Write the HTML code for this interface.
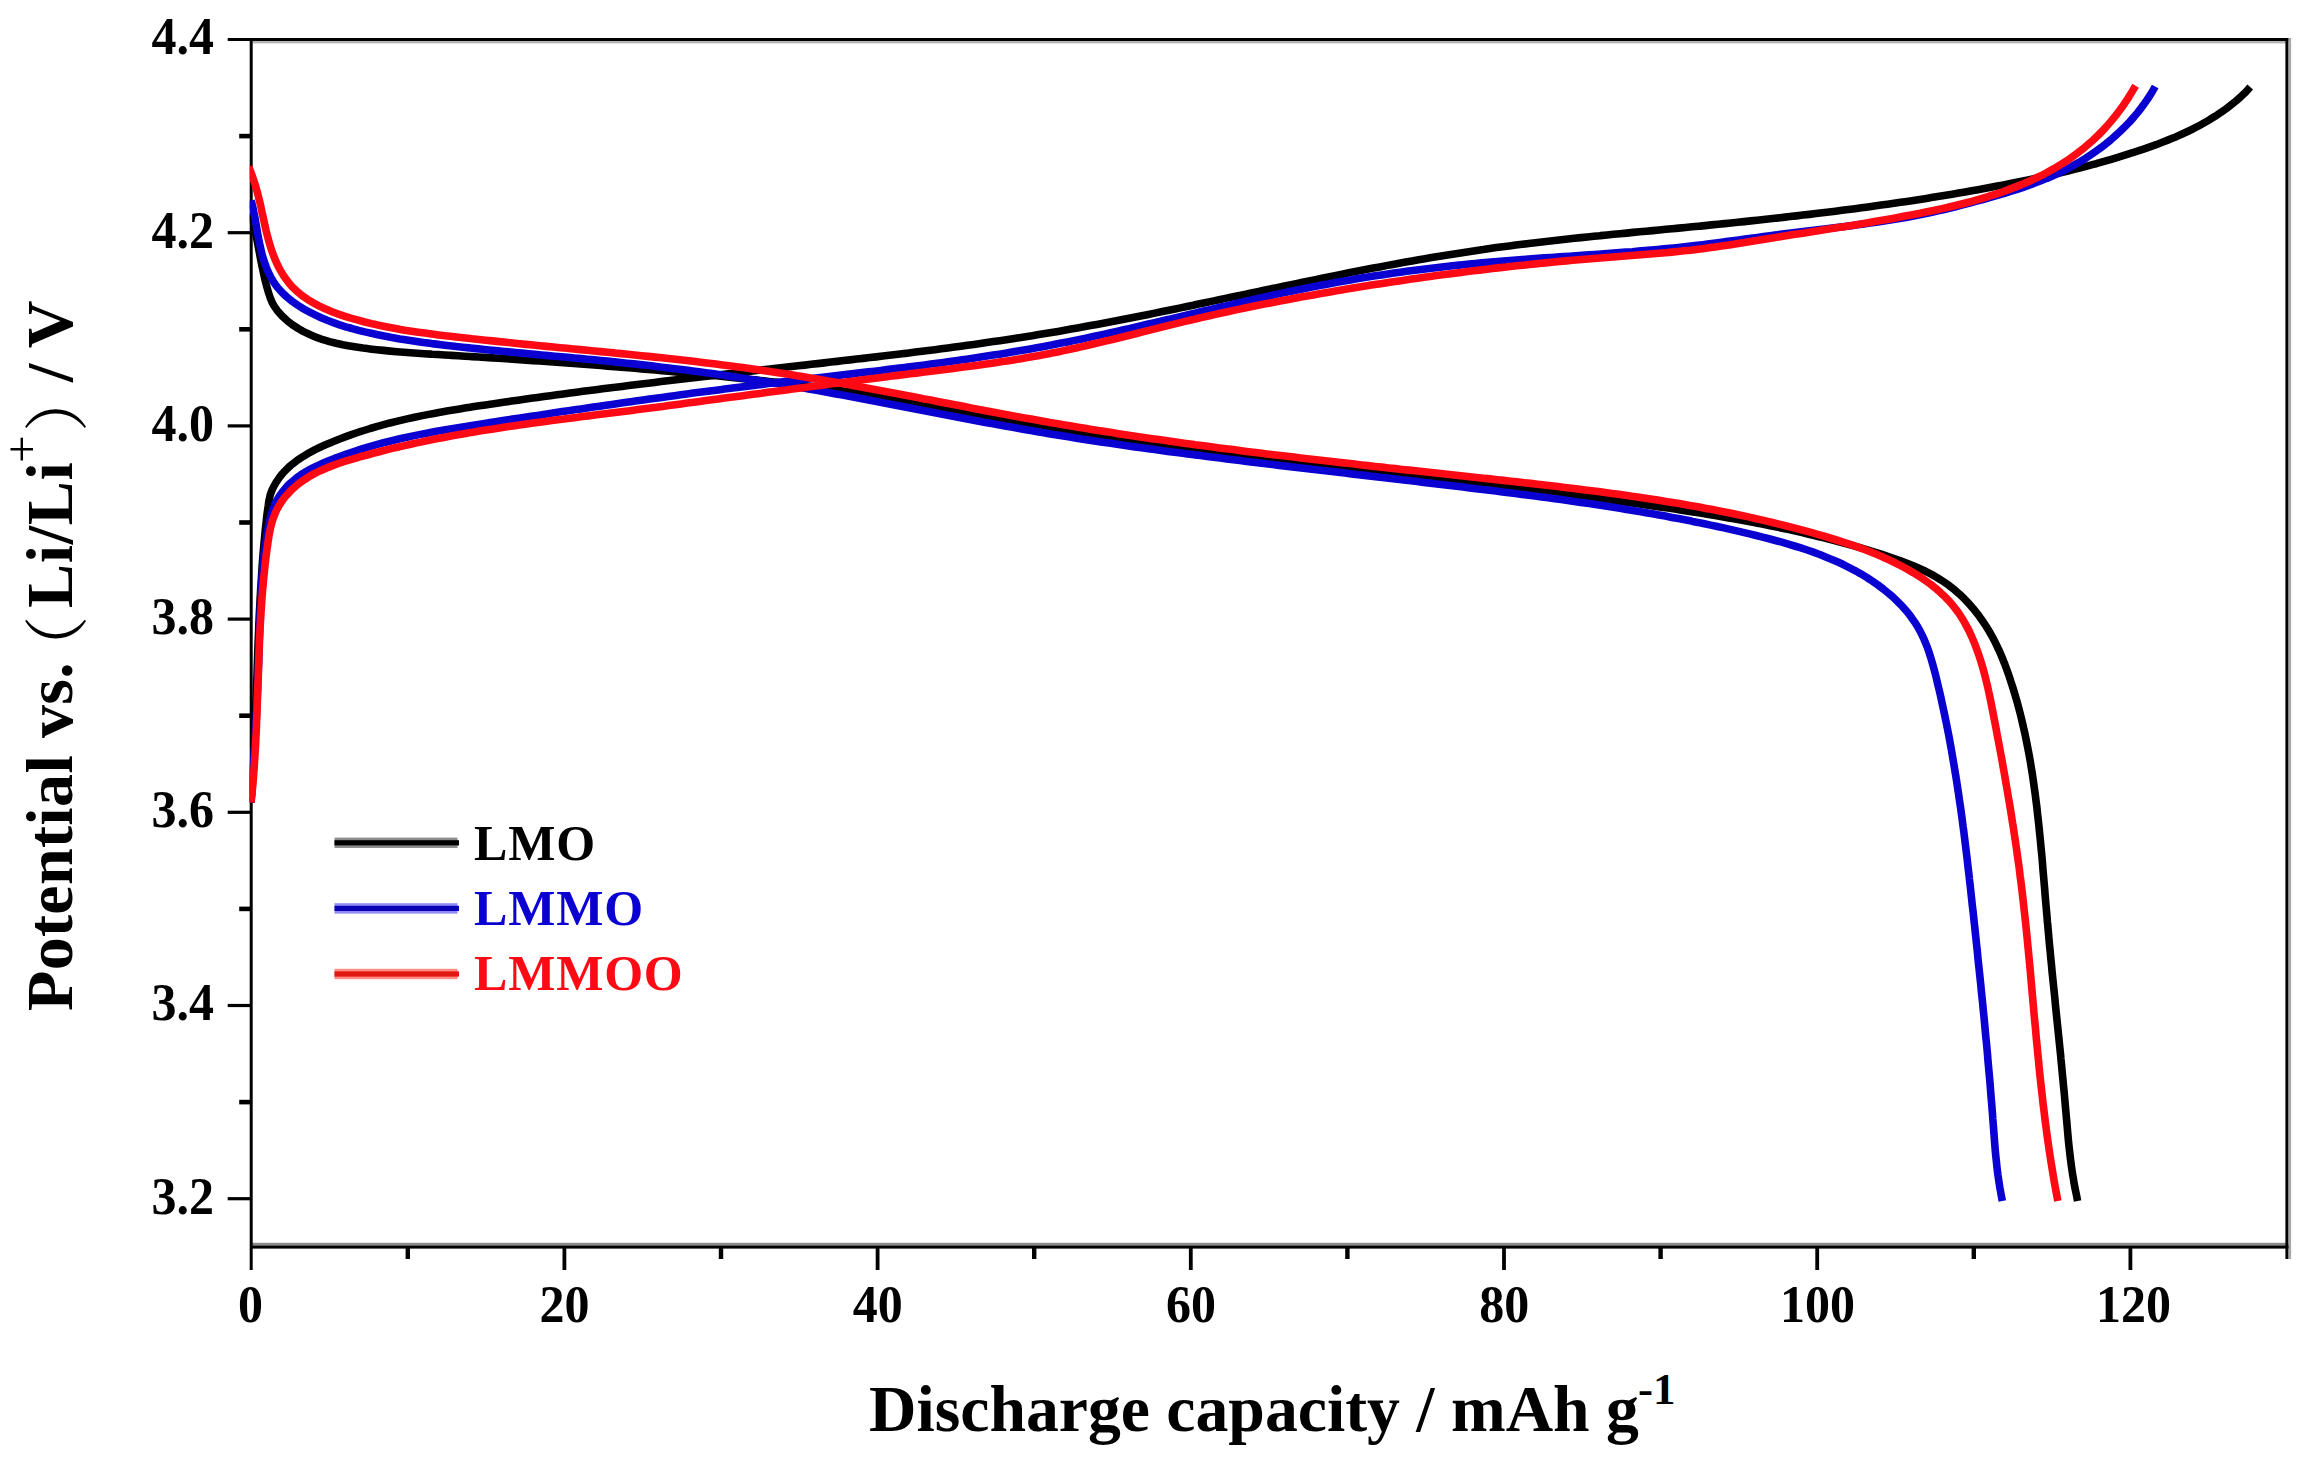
<!DOCTYPE html>
<html lang="en">
<head>
<meta charset="utf-8">
<title>Charge-discharge curves</title>
<style>
html,body{margin:0;padding:0;background:#fff;}
body{width:2300px;height:1460px;overflow:hidden;position:relative;}
svg{position:absolute;left:0;top:0;display:block;}
text{font-family:"Liberation Serif","Noto Serif CJK SC",serif;font-weight:bold;}
.tick{font-size:50px;}
.leg{font-size:50px;letter-spacing:0.8px;}
.title{font-size:66px;}
.cv{fill:none;stroke-linejoin:round;stroke-linecap:butt;}
</style>
</head>
<body>
<svg width="2300" height="1460" viewBox="0 0 2300 1460">
<rect x="0" y="0" width="2300" height="1460" fill="#ffffff"/>
<g id="axes"><rect x="251.2" y="1242.8" width="2037.3" height="2.8" fill="#8a8a8a"/><rect x="2288.3" y="38.0" width="2.8" height="1221.0" fill="#a8a8a8"/><rect x="252.7" y="41.0" width="2032.8" height="2.4" fill="#b4b4b4"/><rect x="227.7" y="38.0" width="2060.5" height="3" fill="#000"/><rect x="249.7" y="38.0" width="3" height="1232.0" fill="#000"/><rect x="251.2" y="1245.5" width="2037.3" height="3.1" fill="#000"/><rect x="2285.4" y="38.0" width="2.9" height="1221.0" fill="#000"/><rect x="239.2" y="133.8" width="12" height="4.6" fill="#000"/><rect x="227.7" y="231.1" width="23.5" height="3.2" fill="#000"/><rect x="239.2" y="327.0" width="12" height="4.6" fill="#000"/><rect x="227.7" y="424.3" width="23.5" height="3.2" fill="#000"/><rect x="239.2" y="520.2" width="12" height="4.6" fill="#000"/><rect x="227.7" y="617.5" width="23.5" height="3.2" fill="#000"/><rect x="239.2" y="713.4" width="12" height="4.6" fill="#000"/><rect x="227.7" y="810.7" width="23.5" height="3.2" fill="#000"/><rect x="239.2" y="906.6" width="12" height="4.6" fill="#000"/><rect x="227.7" y="1003.9" width="23.5" height="3.2" fill="#000"/><rect x="239.2" y="1099.8" width="12" height="4.6" fill="#000"/><rect x="227.7" y="1197.1" width="23.5" height="3.2" fill="#000"/><rect x="405.6" y="1247.0" width="4.4" height="12" fill="#000"/><rect x="562.5" y="1247.0" width="3.8" height="23" fill="#000"/><rect x="718.8" y="1247.0" width="4.4" height="12" fill="#000"/><rect x="875.7" y="1247.0" width="3.8" height="23" fill="#000"/><rect x="1032.0" y="1247.0" width="4.4" height="12" fill="#000"/><rect x="1188.9" y="1247.0" width="3.8" height="23" fill="#000"/><rect x="1345.2" y="1247.0" width="4.4" height="12" fill="#000"/><rect x="1502.1" y="1247.0" width="3.8" height="23" fill="#000"/><rect x="1658.4" y="1247.0" width="4.4" height="12" fill="#000"/><rect x="1815.3" y="1247.0" width="3.8" height="23" fill="#000"/><rect x="1971.6" y="1247.0" width="4.4" height="12" fill="#000"/><rect x="2128.5" y="1247.0" width="3.8" height="23" fill="#000"/></g>
<g id="ticklabels"><text class="tick" transform="translate(214 54.4) scale(1 1.065)" text-anchor="end">4.4</text><text class="tick" transform="translate(214 247.6) scale(1 1.065)" text-anchor="end">4.2</text><text class="tick" transform="translate(214 440.8) scale(1 1.065)" text-anchor="end">4.0</text><text class="tick" transform="translate(214 634.0) scale(1 1.065)" text-anchor="end">3.8</text><text class="tick" transform="translate(214 827.2) scale(1 1.065)" text-anchor="end">3.6</text><text class="tick" transform="translate(214 1020.4) scale(1 1.065)" text-anchor="end">3.4</text><text class="tick" transform="translate(214 1213.6) scale(1 1.065)" text-anchor="end">3.2</text><text class="tick" transform="translate(250.4 1322.3) scale(1 1.065)" text-anchor="middle">0</text><text class="tick" transform="translate(564.6 1322.3) scale(1 1.065)" text-anchor="middle">20</text><text class="tick" transform="translate(877.8 1322.3) scale(1 1.065)" text-anchor="middle">40</text><text class="tick" transform="translate(1191.0 1322.3) scale(1 1.065)" text-anchor="middle">60</text><text class="tick" transform="translate(1504.2 1322.3) scale(1 1.065)" text-anchor="middle">80</text><text class="tick" transform="translate(1817.4 1322.3) scale(1 1.065)" text-anchor="middle">100</text><text class="tick" transform="translate(2133.4 1322.3) scale(1 1.065)" text-anchor="middle">120</text></g>
<text class="title" x="869" y="1431" style="font-size:65.7px">Discharge capacity / mAh g<tspan style="font-size:45px" dy="-27" dx="-1">-1</tspan></text>
<g transform="translate(71.5 1011) rotate(-90)"><text class="title" x="0" y="0" style="letter-spacing:0.35px">Potential vs.</text><text x="330.3" y="8.8" style="font-family:'Liberation Serif','Noto Serif CJK SC',serif;font-weight:normal;font-size:65px">（</text><text class="title" x="403" y="0" style="letter-spacing:0.7px">Li/Li</text><text x="548" y="-33.1" style="font-weight:normal;font-size:49px">+</text><text x="579" y="8.8" style="font-family:'Liberation Serif','Noto Serif CJK SC',serif;font-weight:normal;font-size:65px">）</text><text class="title" x="629" y="0">/ V</text></g>
<clipPath id="plotclip"><rect x="249.7" y="30" width="2045" height="1225"/></clipPath>
<g id="curves" clip-path="url(#plotclip)"><path class="cv" stroke="#000000" stroke-width="7.6" d="M250.6 802.5L251.3 796.0L251.8 789.4L252.2 782.9L252.5 778.0L252.6 776.4L253.0 769.8L253.4 763.3L253.7 756.7L254.0 750.2L254.4 743.6L254.6 737.1L254.8 733.7L254.9 730.5L255.2 724.0L255.5 717.4L255.7 710.8L255.9 704.3L256.2 697.7L256.4 691.2L256.6 684.6L256.9 678.0L257.1 671.5L257.3 664.9L257.6 658.4L257.7 653.6L257.8 651.8L258.0 645.2L258.3 638.7L258.6 632.1L258.8 625.6L259.1 619.0L259.4 612.5L259.8 605.9L260.1 599.4L260.5 592.8L260.8 586.9L260.9 586.3L261.3 579.7L261.7 573.2L262.1 566.7L262.6 560.1L263.1 553.6L263.7 547.0L263.8 546.0L264.3 540.5L264.9 534.0L265.5 528.0L265.6 527.5L266.3 521.0L266.4 520.0L267.0 514.5L267.9 508.0L268.2 506.1L268.8 501.5L270.2 495.1L271.1 492.5L272.5 488.9L273.8 486.4L275.7 483.1L276.8 481.3L279.3 477.7L282.4 473.7L283.3 472.7L287.8 468.1L290.2 465.9L292.6 463.9L297.7 460.0L303.2 456.4L308.8 453.0L309.6 452.6L314.6 449.9L320.6 447.0L326.7 444.3L331.2 442.4L332.8 441.7L339.0 439.2L345.2 436.9L351.4 434.6L357.6 432.5L360.1 431.7L363.9 430.5L370.2 428.5L376.5 426.7L382.8 424.9L389.1 423.2L389.9 423.0L395.5 421.6L401.8 420.1L408.2 418.6L414.6 417.2L421.0 415.9L427.4 414.6L433.9 413.4L440.0 412.2L440.3 412.2L446.8 411.1L453.2 410.0L459.7 408.9L466.1 407.8L470.1 407.2L472.6 406.8L479.1 405.8L485.6 404.9L490.0 404.2L492.1 403.9L498.6 403.0L505.0 402.0L511.5 401.1L518.0 400.2L524.5 399.2L531.0 398.3L537.5 397.4L544.0 396.5L550.5 395.7L557.0 394.8L563.5 393.9L570.0 393.0L576.5 392.2L583.0 391.3L589.5 390.5L596.0 389.7L602.5 388.8L609.0 388.0L614.9 387.3L615.5 387.2L622.1 386.4L628.6 385.6L635.1 384.7L641.6 383.9L648.1 383.2L654.6 382.4L661.1 381.6L667.7 380.8L671.9 380.3L674.2 380.0L680.7 379.3L687.2 378.5L693.7 377.7L700.2 377.0L706.8 376.2L713.3 375.4L719.8 374.7L726.3 373.9L732.8 373.2L739.4 372.4L745.9 371.7L752.4 371.0L758.9 370.2L765.4 369.5L772.0 368.7L778.5 368.0L785.0 367.3L785.1 367.3L791.5 366.5L798.1 365.8L804.6 365.1L811.1 364.3L817.6 363.6L824.1 362.9L830.7 362.1L837.2 361.4L843.7 360.6L850.2 359.9L856.7 359.1L863.3 358.4L869.8 357.6L876.3 356.9L882.8 356.1L889.3 355.3L895.8 354.5L902.3 353.7L905.1 353.4L908.8 352.9L915.4 352.1L921.9 351.3L928.4 350.5L934.9 349.7L941.4 348.8L947.9 348.0L954.4 347.1L960.9 346.2L967.4 345.3L973.9 344.4L980.4 343.5L986.8 342.6L993.3 341.6L999.8 340.7L1006.3 339.7L1012.8 338.7L1019.3 337.7L1025.7 336.7L1032.2 335.7L1038.7 334.6L1045.2 333.6L1049.9 332.8L1051.6 332.5L1058.1 331.4L1064.6 330.3L1071.0 329.1L1077.5 328.0L1083.9 326.8L1090.4 325.6L1096.8 324.4L1103.3 323.2L1109.7 322.0L1116.2 320.8L1122.6 319.5L1129.1 318.3L1135.5 317.0L1141.9 315.7L1148.4 314.4L1154.8 313.1L1161.2 311.8L1167.7 310.5L1174.1 309.2L1180.5 307.9L1187.0 306.5L1193.4 305.2L1195.0 304.8L1199.8 303.8L1206.2 302.5L1212.7 301.1L1219.1 299.8L1225.5 298.4L1232.0 297.1L1238.4 295.7L1244.8 294.4L1251.2 293.0L1257.7 291.7L1264.1 290.3L1270.5 288.9L1276.9 287.6L1283.4 286.2L1289.8 284.9L1296.2 283.6L1302.6 282.2L1309.1 280.9L1315.5 279.6L1321.9 278.3L1328.4 277.0L1334.8 275.7L1339.9 274.6L1341.2 274.4L1347.7 273.1L1354.1 271.8L1360.6 270.6L1367.0 269.3L1373.4 268.1L1379.9 266.9L1386.3 265.6L1392.8 264.4L1399.2 263.3L1405.7 262.1L1412.1 260.9L1418.6 259.8L1425.0 258.7L1431.5 257.6L1438.0 256.5L1444.4 255.4L1450.9 254.4L1457.4 253.4L1463.8 252.4L1470.3 251.4L1476.8 250.4L1483.3 249.5L1485.1 249.2L1489.8 248.5L1496.3 247.6L1502.8 246.8L1509.2 245.9L1515.7 245.1L1522.2 244.3L1528.8 243.5L1535.3 242.7L1541.8 241.9L1548.3 241.2L1554.8 240.4L1561.3 239.7L1567.8 239.0L1574.3 238.3L1580.9 237.6L1587.4 237.0L1593.9 236.3L1600.0 235.7L1600.4 235.6L1607.0 235.0L1613.5 234.3L1620.0 233.7L1626.6 233.1L1633.1 232.4L1639.6 231.8L1646.1 231.2L1652.7 230.6L1659.2 230.0L1665.8 229.3L1672.3 228.7L1678.8 228.1L1685.4 227.5L1691.9 226.8L1698.4 226.2L1699.9 226.1L1705.0 225.6L1711.5 224.9L1718.0 224.3L1724.6 223.6L1731.1 223.0L1737.6 222.3L1744.2 221.6L1750.7 220.9L1757.2 220.2L1763.7 219.5L1770.3 218.8L1775.0 218.3L1776.8 218.1L1783.3 217.4L1789.8 216.6L1796.4 215.9L1802.9 215.1L1809.4 214.4L1815.9 213.6L1822.4 212.8L1829.0 212.0L1835.5 211.2L1842.0 210.3L1848.5 209.5L1855.0 208.7L1861.5 207.8L1868.0 206.9L1874.5 206.0L1881.0 205.1L1887.5 204.2L1894.0 203.3L1900.5 202.3L1906.9 201.4L1913.4 200.4L1919.9 199.4L1920.1 199.4L1926.4 198.4L1932.9 197.3L1939.3 196.3L1945.8 195.2L1952.3 194.2L1958.7 193.1L1965.2 192.0L1971.6 190.8L1978.1 189.7L1983.0 188.8L1984.5 188.5L1991.0 187.3L1997.4 186.1L2003.8 184.9L2010.3 183.6L2016.7 182.3L2023.1 181.0L2029.5 179.7L2035.9 178.3L2042.3 176.9L2048.7 175.5L2055.1 174.0L2061.5 172.5L2067.8 171.0L2074.2 169.4L2080.6 167.8L2086.9 166.1L2093.3 164.4L2096.2 163.7L2099.6 162.7L2105.9 160.9L2112.2 159.1L2118.5 157.2L2124.8 155.2L2131.1 153.2L2134.3 152.2L2137.4 151.2L2143.6 149.1L2149.9 146.9L2156.1 144.7L2162.3 142.3L2168.4 139.9L2172.8 138.1L2174.5 137.4L2180.5 134.8L2186.5 132.0L2192.4 129.2L2198.2 126.2L2203.9 123.0L2209.6 119.8L2209.8 119.6L2215.1 116.3L2220.5 112.7L2222.8 111.1L2225.8 109.0L2231.0 105.0L2236.1 100.9L2240.4 97.1L2241.0 96.6L2245.8 92.1L2250.2 87.1"/>
<path class="cv" stroke="#000000" stroke-width="7.6" d="M251.2 213.0L252.7 219.6L254.2 226.2L255.2 230.9L255.6 232.9L256.9 239.6L258.2 246.3L258.9 250.0L259.5 253.1L260.7 259.8L262.1 266.5L263.1 271.1L263.5 273.2L265.0 279.8L266.7 286.4L268.4 292.2L268.6 292.9L270.6 298.9L270.8 299.3L272.1 302.4L273.7 305.3L274.7 306.9L277.5 310.8L278.3 311.8L282.0 315.9L287.0 320.5L287.8 321.2L292.4 324.7L298.2 328.5L302.7 331.1L304.2 331.9L310.3 334.8L316.6 337.4L317.2 337.6L323.0 339.7L329.5 341.6L336.1 343.3L342.8 344.8L349.5 346.0L349.8 346.1L356.2 347.1L363.0 348.1L367.2 348.6L369.8 348.9L376.6 349.7L383.4 350.4L390.2 351.1L397.0 351.7L400.0 352.0L403.8 352.3L410.6 352.8L417.4 353.3L424.2 353.7L430.9 354.1L432.1 354.2L437.7 354.5L444.5 355.0L450.0 355.3L451.3 355.4L458.1 355.8L464.9 356.2L470.0 356.5L471.7 356.6L478.5 357.0L485.3 357.4L492.1 357.9L498.9 358.3L505.7 358.7L512.5 359.2L519.3 359.6L526.1 360.1L532.9 360.6L539.7 361.0L546.5 361.5L553.3 362.0L560.1 362.5L566.9 363.0L573.7 363.5L580.5 364.0L587.3 364.5L594.1 365.0L600.9 365.5L607.7 366.1L614.5 366.6L614.9 366.6L621.3 367.2L628.1 367.7L634.9 368.3L641.6 368.9L648.4 369.4L655.2 370.0L662.0 370.6L668.8 371.2L675.6 371.9L682.4 372.5L689.2 373.1L696.0 373.8L702.8 374.5L709.5 375.1L716.3 375.8L723.1 376.5L729.9 377.2L736.7 377.9L743.5 378.6L750.2 379.4L757.0 380.1L760.1 380.5L763.8 380.9L770.6 381.7L777.3 382.4L784.1 383.2L790.9 384.1L797.7 384.9L804.4 385.7L811.2 386.6L818.0 387.5L824.7 388.4L831.5 389.3L838.2 390.2L845.0 391.2L851.7 392.1L858.5 393.1L865.2 394.2L872.0 395.2L878.7 396.3L885.4 397.4L892.2 398.5L898.9 399.6L905.0 400.7L905.6 400.8L912.3 402.0L919.0 403.2L925.7 404.5L932.4 405.7L939.1 407.0L945.8 408.3L952.5 409.6L959.2 411.0L965.8 412.3L972.5 413.6L979.2 415.0L985.9 416.3L992.6 417.6L999.3 419.0L1005.9 420.3L1012.6 421.6L1019.3 422.9L1026.0 424.2L1032.7 425.4L1039.4 426.7L1046.1 427.9L1050.0 428.6L1052.8 429.1L1059.5 430.3L1066.3 431.4L1073.0 432.5L1079.7 433.6L1086.5 434.7L1093.2 435.7L1099.9 436.8L1106.7 437.8L1113.4 438.8L1120.2 439.8L1126.9 440.7L1133.7 441.7L1140.4 442.6L1147.2 443.5L1153.9 444.4L1160.7 445.3L1167.5 446.2L1174.2 447.1L1181.0 447.9L1187.8 448.8L1194.5 449.6L1195.0 449.7L1201.3 450.5L1208.1 451.3L1214.8 452.2L1221.6 453.0L1228.4 453.8L1235.1 454.7L1241.9 455.5L1248.7 456.3L1255.4 457.1L1262.2 457.9L1269.0 458.7L1275.7 459.5L1282.5 460.3L1289.3 461.1L1296.1 461.9L1302.8 462.7L1309.6 463.5L1316.4 464.3L1323.1 465.1L1329.9 465.9L1336.7 466.7L1340.1 467.1L1343.4 467.5L1350.2 468.3L1357.0 469.1L1363.7 469.9L1370.5 470.6L1377.3 471.4L1384.0 472.2L1390.8 473.0L1397.6 473.8L1404.4 474.6L1411.1 475.4L1417.9 476.2L1424.7 477.0L1431.4 477.7L1438.2 478.5L1445.0 479.3L1451.7 480.1L1458.5 480.9L1465.3 481.7L1472.0 482.6L1478.8 483.4L1484.8 484.1L1485.6 484.2L1492.3 485.0L1499.1 485.8L1505.9 486.7L1512.6 487.5L1519.4 488.3L1526.1 489.2L1532.9 490.0L1539.7 490.8L1546.4 491.7L1553.2 492.6L1560.0 493.4L1566.7 494.3L1573.5 495.2L1580.2 496.0L1587.0 496.9L1593.8 497.8L1600.5 498.7L1607.3 499.6L1614.0 500.5L1620.8 501.5L1627.6 502.4L1630.1 502.7L1634.3 503.3L1641.1 504.3L1647.8 505.2L1654.6 506.2L1661.3 507.2L1668.1 508.1L1674.8 509.1L1681.6 510.2L1688.3 511.2L1693.1 511.9L1695.1 512.3L1701.8 513.3L1708.5 514.4L1715.2 515.5L1722.0 516.7L1728.7 517.9L1735.4 519.0L1742.1 520.3L1748.8 521.5L1755.5 522.8L1756.1 522.9L1762.2 524.1L1768.9 525.4L1775.6 526.8L1782.2 528.2L1788.9 529.6L1795.5 531.1L1802.2 532.6L1808.8 534.2L1815.4 535.8L1819.1 536.7L1822.1 537.4L1828.7 539.1L1835.3 540.8L1841.9 542.6L1848.4 544.4L1855.0 546.2L1861.6 548.1L1868.1 550.1L1874.6 552.1L1881.1 554.2L1882.1 554.5L1887.7 556.3L1894.1 558.5L1900.6 560.8L1907.0 563.2L1913.3 565.7L1918.9 568.2L1919.5 568.5L1925.6 571.3L1931.6 574.4L1935.2 576.5L1937.4 577.8L1943.1 581.4L1948.7 585.2L1951.9 587.7L1954.0 589.4L1959.1 593.8L1964.1 598.5L1968.2 602.9L1968.8 603.5L1973.3 608.7L1977.6 614.1L1981.0 618.7L1981.7 619.7L1985.6 625.5L1989.2 631.3L1990.8 634.2L1992.6 637.3L1995.7 643.4L1998.6 649.5L1998.7 649.6L2001.4 655.8L2004.0 662.2L2005.0 664.7L2006.4 668.5L2008.7 674.9L2010.4 680.0L2010.8 681.4L2012.9 687.8L2014.9 694.3L2015.4 696.2L2016.8 700.8L2018.6 707.4L2020.3 713.9L2021.5 718.9L2021.9 720.5L2023.4 727.1L2024.9 733.7L2026.3 740.4L2027.6 747.0L2028.9 753.7L2030.1 760.4L2031.2 767.1L2032.2 773.2L2032.3 773.8L2033.3 780.6L2034.2 787.3L2035.2 794.1L2036.0 800.8L2036.9 807.6L2037.6 814.4L2038.4 821.2L2039.1 827.7L2039.1 828.0L2039.8 834.8L2040.5 841.6L2041.1 848.4L2041.8 855.2L2042.4 862.0L2042.9 868.9L2043.5 875.7L2043.7 877.9L2044.1 882.5L2044.7 889.3L2045.2 896.2L2045.8 903.0L2046.4 909.8L2047.0 916.6L2047.4 921.9L2047.6 923.4L2048.2 930.2L2048.8 937.0L2049.4 943.8L2050.1 950.6L2050.7 957.3L2051.4 964.1L2052.0 970.9L2052.7 977.6L2053.3 983.5L2053.4 984.4L2054.1 991.2L2054.8 997.9L2055.4 1004.7L2056.1 1011.5L2056.8 1018.2L2057.5 1025.0L2058.2 1031.7L2058.9 1038.5L2059.6 1045.3L2060.3 1052.0L2060.8 1057.2L2060.9 1058.8L2061.6 1065.6L2062.2 1072.4L2062.9 1079.1L2063.5 1085.9L2064.2 1092.7L2064.8 1099.5L2065.4 1106.3L2065.4 1106.5L2066.0 1113.1L2066.6 1119.9L2067.2 1126.7L2067.8 1133.6L2068.4 1140.4L2069.1 1147.2L2069.9 1154.0L2070.1 1156.1L2070.7 1160.7L2071.6 1167.5L2072.6 1174.2L2073.7 1180.7L2073.7 1181.0L2074.9 1187.6L2076.3 1194.3L2077.6 1201.0"/>
<path class="cv" stroke="#0a00d2" stroke-width="7.6" d="M250.8 802.5L251.5 796.2L252.0 789.9L252.4 783.7L252.7 777.9L252.8 777.4L253.1 771.1L253.5 764.8L253.9 758.5L254.3 752.2L254.7 746.0L255.0 739.7L255.4 733.7L255.4 733.4L255.7 727.1L256.1 720.9L256.4 714.6L256.7 708.3L257.0 702.0L257.3 695.8L257.6 689.5L257.8 683.2L258.1 676.9L258.3 670.6L258.6 664.3L258.8 658.0L258.9 653.7L259.0 651.7L259.1 645.4L259.3 639.1L259.5 632.7L259.7 626.4L259.9 620.1L260.1 613.8L260.3 607.5L260.6 601.2L260.9 594.9L261.2 588.6L261.3 586.7L261.6 582.3L262.1 576.0L262.6 569.7L263.2 563.4L263.8 557.2L264.6 551.0L265.3 545.9L265.4 544.7L266.4 538.5L267.4 532.3L268.2 528.1L268.5 526.2L269.8 520.1L269.8 520.1L271.4 514.0L273.3 508.1L273.8 506.9L275.8 502.4L276.6 500.9L278.8 497.0L281.9 492.6L282.4 491.9L286.4 487.1L287.8 485.6L290.7 482.8L290.8 482.8L295.5 478.8L298.0 476.9L300.5 475.1L305.8 471.8L310.9 468.9L311.3 468.7L316.8 466.0L317.0 465.9L322.8 463.3L328.6 460.8L331.3 459.7L334.5 458.4L340.5 456.2L346.4 454.0L352.4 452.0L358.4 450.0L360.2 449.5L364.5 448.2L370.5 446.4L376.6 444.7L382.6 443.0L388.7 441.5L389.9 441.2L394.8 440.0L400.9 438.5L407.1 437.2L413.2 435.9L419.4 434.6L425.5 433.4L431.7 432.2L437.9 431.1L440.1 430.7L444.1 430.0L450.3 428.9L456.5 427.9L462.7 426.9L468.9 425.9L470.0 425.7L475.1 424.9L481.4 423.9L487.6 423.0L490.0 422.6L493.8 422.0L500.0 421.0L506.2 420.1L512.5 419.1L518.7 418.2L524.9 417.3L531.1 416.3L537.4 415.4L543.6 414.4L549.8 413.5L556.0 412.6L562.3 411.6L568.5 410.7L574.7 409.8L581.0 408.9L587.2 408.0L593.4 407.1L599.7 406.2L605.9 405.3L612.1 404.4L615.0 404.0L618.4 403.5L624.6 402.6L630.8 401.7L637.1 400.8L643.3 400.0L649.5 399.1L655.8 398.2L662.0 397.4L668.3 396.5L674.5 395.7L680.7 394.8L687.0 394.0L693.2 393.1L699.5 392.3L705.7 391.5L712.0 390.7L718.2 389.9L722.0 389.4L724.5 389.1L730.7 388.3L737.0 387.5L743.2 386.7L749.5 385.9L755.7 385.2L760.0 384.6L762.0 384.4L768.2 383.6L774.5 382.9L780.8 382.1L787.0 381.4L793.3 380.7L799.5 379.9L805.8 379.2L812.0 378.5L818.3 377.8L824.6 377.0L830.8 376.3L837.1 375.6L843.3 374.8L849.6 374.1L855.9 373.4L862.1 372.6L868.4 371.9L874.6 371.2L880.9 370.4L887.1 369.6L893.4 368.9L899.6 368.1L905.1 367.4L905.9 367.3L912.1 366.5L918.4 365.7L924.6 364.9L930.9 364.1L937.1 363.3L943.4 362.4L949.6 361.6L955.8 360.7L962.1 359.8L968.3 358.9L974.5 358.0L980.7 357.1L986.9 356.1L993.2 355.1L999.4 354.2L1005.6 353.2L1011.8 352.1L1018.0 351.1L1024.2 350.0L1030.4 348.9L1036.6 347.8L1042.8 346.7L1048.9 345.5L1049.8 345.4L1055.1 344.3L1061.3 343.1L1067.5 341.9L1073.6 340.6L1079.8 339.4L1085.9 338.1L1092.1 336.8L1098.3 335.4L1104.4 334.1L1110.6 332.7L1116.7 331.4L1122.8 330.0L1129.0 328.6L1135.1 327.2L1141.3 325.8L1147.4 324.3L1153.5 322.9L1159.7 321.5L1165.8 320.0L1171.9 318.6L1178.1 317.1L1184.2 315.7L1190.3 314.2L1195.2 313.1L1196.5 312.8L1202.6 311.3L1208.7 309.9L1214.9 308.4L1221.0 307.0L1227.1 305.6L1233.3 304.1L1239.4 302.7L1245.6 301.3L1251.7 299.9L1257.8 298.5L1264.0 297.2L1270.1 295.8L1276.3 294.4L1282.5 293.1L1288.6 291.8L1294.8 290.5L1300.9 289.2L1307.1 288.0L1313.3 286.8L1319.5 285.5L1325.7 284.4L1331.9 283.2L1338.1 282.1L1339.9 281.7L1344.3 281.0L1350.5 279.9L1356.7 278.8L1362.9 277.8L1369.1 276.8L1375.3 275.8L1381.6 274.9L1387.8 274.0L1394.0 273.1L1400.3 272.2L1406.5 271.3L1412.8 270.5L1419.0 269.7L1425.3 268.9L1431.5 268.2L1437.8 267.4L1444.0 266.7L1450.3 266.0L1456.6 265.4L1462.8 264.7L1469.1 264.1L1475.4 263.5L1481.7 262.9L1485.0 262.6L1487.9 262.3L1494.2 261.8L1500.5 261.3L1506.8 260.7L1513.1 260.2L1519.3 259.8L1525.6 259.3L1531.9 258.8L1538.2 258.4L1544.5 257.9L1550.8 257.5L1557.0 257.1L1563.3 256.6L1569.6 256.2L1575.9 255.8L1582.2 255.3L1588.5 254.9L1594.7 254.5L1600.1 254.1L1601.0 254.0L1607.3 253.6L1613.6 253.1L1619.9 252.6L1626.1 252.1L1632.4 251.7L1638.7 251.1L1645.0 250.6L1651.2 250.1L1657.5 249.5L1663.8 248.9L1670.0 248.3L1676.3 247.7L1682.5 247.0L1688.8 246.3L1695.0 245.6L1699.9 245.0L1701.3 244.9L1707.5 244.1L1713.8 243.3L1720.0 242.5L1726.3 241.6L1732.5 240.8L1738.7 239.9L1745.0 239.1L1751.2 238.2L1757.5 237.4L1763.7 236.5L1770.0 235.7L1775.0 235.0L1776.2 234.9L1782.5 234.1L1788.7 233.3L1795.0 232.5L1801.2 231.8L1807.5 231.0L1813.8 230.3L1820.0 229.5L1826.3 228.8L1832.5 228.0L1838.8 227.2L1845.1 226.5L1851.3 225.7L1857.5 224.8L1863.8 224.0L1870.0 223.1L1876.3 222.2L1882.5 221.3L1888.7 220.3L1894.9 219.3L1901.1 218.3L1907.3 217.2L1913.5 216.0L1919.7 214.8L1920.0 214.7L1925.8 213.6L1932.0 212.2L1938.1 210.9L1944.2 209.5L1950.4 208.0L1956.5 206.5L1962.6 204.9L1968.7 203.4L1974.8 201.7L1980.9 200.1L1983.0 199.5L1987.0 198.4L1993.0 196.7L1999.1 194.9L2005.2 193.1L2011.2 191.2L2017.2 189.3L2023.2 187.3L2029.1 185.2L2035.0 183.0L2040.9 180.8L2046.2 178.6L2046.7 178.4L2052.5 175.9L2058.2 173.3L2063.8 170.5L2069.4 167.7L2071.1 166.8L2074.9 164.6L2080.4 161.5L2085.8 158.2L2091.0 154.7L2096.2 151.1L2096.6 150.8L2101.3 147.4L2106.3 143.5L2111.2 139.5L2115.5 135.7L2115.9 135.3L2120.5 131.0L2125.0 126.6L2129.4 122.1L2133.6 117.4L2134.2 116.6L2137.6 112.6L2141.5 107.6L2145.2 102.5L2146.8 100.2L2148.7 97.3L2152.1 92.0L2155.2 86.5"/>
<path class="cv" stroke="#0a00d2" stroke-width="7.6" d="M251.2 200.4L252.7 206.8L254.0 213.2L255.3 219.6L255.3 219.8L256.4 226.2L257.5 232.8L258.7 239.3L258.9 240.0L260.1 245.9L261.6 252.3L262.2 254.7L263.3 258.7L265.4 265.0L267.8 271.1L268.1 271.8L270.7 277.0L272.0 279.3L274.0 282.6L275.9 285.2L277.8 287.8L282.2 292.6L283.2 293.6L287.0 297.1L292.1 301.3L293.7 302.4L297.6 305.1L303.3 308.7L308.8 311.8L309.1 311.9L315.1 314.9L321.1 317.7L326.0 319.8L327.2 320.3L333.4 322.6L339.6 324.8L345.8 326.8L350.2 328.0L352.2 328.6L358.5 330.3L364.9 331.9L367.3 332.4L371.3 333.3L377.8 334.7L384.3 336.0L390.7 337.3L397.2 338.4L399.9 338.9L403.7 339.5L410.3 340.5L416.8 341.5L423.4 342.4L429.9 343.3L431.9 343.6L436.5 344.1L443.0 344.9L449.6 345.7L450.0 345.8L456.2 346.5L462.8 347.2L469.3 347.9L470.2 348.0L475.9 348.6L482.5 349.3L489.0 350.0L495.6 350.6L502.2 351.3L508.8 351.9L515.3 352.5L521.9 353.1L528.5 353.7L535.0 354.4L541.6 355.0L548.2 355.6L554.7 356.2L561.3 356.8L567.9 357.4L574.5 358.0L581.0 358.6L587.6 359.2L594.2 359.8L600.7 360.5L607.3 361.1L613.9 361.8L614.9 361.9L620.4 362.5L627.0 363.2L633.6 363.9L640.1 364.6L646.7 365.3L653.3 366.1L659.8 366.9L666.4 367.7L672.9 368.5L679.5 369.3L686.0 370.1L692.6 371.0L699.1 371.8L705.7 372.7L712.2 373.6L718.8 374.5L725.3 375.5L731.9 376.4L738.4 377.4L744.9 378.4L751.5 379.4L758.0 380.4L760.1 380.7L764.5 381.4L771.0 382.5L777.6 383.6L784.1 384.7L790.6 385.8L797.1 386.9L803.6 388.0L810.1 389.2L816.6 390.3L823.1 391.5L829.6 392.7L836.1 393.9L842.6 395.1L849.1 396.3L855.6 397.5L862.1 398.8L868.6 400.0L875.1 401.2L881.6 402.5L888.0 403.7L894.5 405.0L901.0 406.2L904.9 407.0L907.5 407.5L914.0 408.7L920.5 410.0L927.0 411.2L933.5 412.5L939.9 413.7L946.4 415.0L952.9 416.2L959.4 417.5L965.9 418.7L972.4 419.9L978.9 421.2L985.4 422.4L991.8 423.6L998.3 424.8L1004.8 426.0L1011.3 427.1L1017.8 428.3L1024.3 429.5L1030.8 430.6L1037.3 431.7L1043.8 432.8L1050.1 433.9L1050.3 433.9L1056.9 435.0L1063.4 436.1L1069.9 437.1L1076.4 438.2L1082.9 439.2L1089.4 440.2L1096.0 441.2L1102.5 442.2L1109.0 443.1L1115.5 444.1L1122.1 445.0L1128.6 446.0L1135.1 446.9L1141.7 447.8L1148.2 448.7L1154.8 449.6L1161.3 450.5L1167.8 451.4L1174.4 452.2L1180.9 453.1L1187.5 453.9L1194.0 454.8L1194.9 454.9L1200.6 455.6L1207.1 456.5L1213.7 457.3L1220.2 458.1L1226.8 458.9L1233.4 459.8L1239.9 460.6L1246.5 461.4L1253.0 462.2L1259.6 463.0L1266.2 463.8L1272.7 464.6L1279.3 465.4L1285.9 466.1L1292.4 466.9L1299.0 467.7L1305.6 468.5L1312.1 469.3L1318.7 470.0L1325.3 470.8L1331.8 471.6L1338.4 472.3L1340.0 472.5L1345.0 473.1L1351.5 473.9L1358.1 474.7L1364.7 475.4L1371.2 476.2L1377.8 477.0L1384.4 477.7L1390.9 478.5L1397.5 479.3L1404.0 480.0L1410.6 480.8L1417.2 481.6L1423.7 482.4L1430.3 483.1L1436.9 483.9L1443.4 484.7L1450.0 485.5L1456.5 486.3L1463.1 487.1L1469.6 487.9L1476.2 488.7L1482.7 489.5L1485.1 489.8L1489.3 490.3L1495.8 491.1L1502.4 491.9L1508.9 492.7L1515.5 493.6L1522.0 494.4L1528.6 495.2L1535.1 496.1L1541.6 497.0L1548.2 497.8L1554.7 498.7L1561.2 499.6L1567.8 500.5L1574.3 501.4L1580.8 502.4L1587.3 503.3L1593.9 504.3L1600.4 505.3L1606.9 506.3L1613.4 507.3L1619.9 508.3L1626.4 509.4L1629.9 510.0L1632.9 510.5L1639.5 511.6L1646.0 512.7L1652.5 513.8L1659.0 515.0L1665.4 516.1L1671.9 517.4L1678.4 518.6L1684.9 519.8L1691.4 521.1L1692.7 521.4L1697.9 522.4L1704.4 523.8L1710.8 525.1L1717.3 526.5L1723.8 527.9L1730.2 529.4L1736.7 530.9L1743.2 532.4L1749.6 533.9L1756.1 535.5L1756.2 535.5L1762.5 537.1L1769.0 538.8L1775.4 540.5L1781.8 542.2L1788.2 544.1L1794.6 546.0L1800.9 547.9L1807.2 550.0L1813.4 552.2L1819.6 554.5L1819.8 554.5L1825.7 556.9L1831.8 559.4L1837.9 562.0L1843.8 564.8L1849.7 567.8L1855.5 570.8L1857.1 571.8L1861.2 574.1L1866.9 577.5L1869.5 579.2L1872.4 581.1L1877.8 584.9L1883.1 588.9L1888.3 593.1L1891.3 595.7L1893.3 597.4L1898.0 602.0L1902.6 606.7L1906.9 611.6L1907.8 612.7L1910.9 616.7L1914.7 622.1L1918.1 627.6L1919.2 629.5L1921.2 633.3L1924.0 639.2L1926.5 645.3L1927.0 646.5L1928.8 651.5L1930.8 657.8L1932.3 663.0L1932.7 664.2L1934.4 670.6L1936.1 677.1L1936.7 679.6L1937.6 683.6L1939.2 690.1L1940.6 696.2L1940.7 696.6L1942.1 703.1L1943.5 709.6L1944.9 716.1L1945.5 719.2L1946.2 722.6L1947.5 729.1L1948.8 735.6L1950.0 742.1L1951.2 748.6L1952.3 755.1L1953.4 761.6L1954.5 768.1L1955.4 773.8L1955.6 774.7L1956.6 781.2L1957.6 787.7L1958.6 794.2L1959.5 800.7L1960.5 807.2L1961.4 813.7L1962.3 820.3L1963.1 826.8L1963.3 828.0L1964.0 833.3L1964.8 839.8L1965.6 846.4L1966.4 852.9L1967.2 859.4L1967.9 866.0L1968.7 872.5L1969.3 877.9L1969.4 879.1L1970.2 885.6L1970.9 892.1L1971.6 898.7L1972.3 905.3L1973.1 911.8L1973.8 918.4L1974.1 921.5L1974.5 924.9L1975.2 931.5L1975.9 938.1L1976.6 944.6L1977.3 951.2L1977.9 957.8L1978.6 964.4L1979.3 970.9L1980.0 977.5L1980.6 983.3L1980.7 984.1L1981.3 990.7L1982.0 997.3L1982.7 1003.9L1983.3 1010.5L1984.0 1017.0L1984.6 1023.6L1985.2 1030.2L1985.8 1036.8L1986.5 1043.4L1987.1 1050.0L1987.7 1056.6L1987.7 1057.4L1988.2 1063.2L1988.8 1069.7L1989.4 1076.3L1990.0 1082.9L1990.5 1089.5L1991.0 1096.1L1991.6 1102.7L1992.1 1109.2L1992.6 1115.8L1992.8 1119.0L1993.1 1122.4L1993.6 1128.9L1994.1 1135.5L1994.6 1142.1L1995.1 1148.6L1995.7 1155.2L1996.4 1161.7L1997.1 1168.3L1997.1 1168.3L1997.9 1174.8L1998.9 1181.4L1999.9 1187.9L2001.1 1194.5L2002.3 1201.0"/>
<path class="cv" stroke="#ff0a14" stroke-width="7.6" d="M251.0 802.5L251.7 796.3L252.3 790.1L252.9 783.9L253.4 777.9L253.4 777.7L253.9 771.4L254.3 765.2L254.7 759.0L255.1 752.8L255.5 746.6L255.8 740.3L256.1 734.1L256.1 733.7L256.4 727.9L256.6 721.7L256.9 715.5L257.1 709.3L257.3 703.1L257.5 696.8L257.7 690.6L257.9 684.4L258.2 678.2L258.4 672.0L258.6 665.8L258.8 659.6L259.0 653.7L259.0 653.4L259.3 647.2L259.5 640.9L259.8 634.7L260.1 628.5L260.4 622.3L260.8 616.1L261.2 609.9L261.6 603.6L262.0 597.4L262.5 591.2L262.9 587.0L263.1 585.0L263.6 578.7L264.3 572.5L264.9 566.3L265.6 560.0L266.4 553.8L267.2 547.6L267.5 545.9L268.1 541.3L269.1 535.1L270.3 529.0L270.6 527.7L271.8 522.9L273.1 518.7L273.7 517.1L276.0 511.4L277.1 509.1L278.9 505.9L282.2 500.7L282.6 500.3L286.0 495.8L290.2 491.3L291.7 489.8L294.7 487.1L299.4 483.2L304.4 479.7L307.0 478.0L309.5 476.4L314.9 473.4L320.4 470.7L320.4 470.7L326.1 468.2L330.6 466.4L331.9 465.9L337.7 463.7L338.3 463.5L343.7 461.7L349.7 459.9L355.8 458.1L359.9 456.9L361.9 456.3L368.0 454.7L374.1 453.0L380.2 451.5L386.3 449.9L390.2 448.9L392.3 448.4L398.4 447.0L404.5 445.6L410.6 444.2L416.8 442.9L422.9 441.6L429.0 440.3L435.1 439.1L440.3 438.0L441.2 437.9L447.3 436.7L453.4 435.6L459.5 434.5L465.7 433.4L470.2 432.6L471.8 432.4L477.9 431.3L484.0 430.3L490.2 429.4L490.2 429.4L496.3 428.4L502.4 427.5L508.6 426.6L514.7 425.7L520.8 424.8L527.0 423.9L533.1 423.1L539.3 422.2L545.4 421.4L551.6 420.6L557.7 419.8L563.9 419.0L570.0 418.2L576.2 417.4L582.3 416.6L588.5 415.9L594.7 415.1L600.8 414.3L607.0 413.5L613.2 412.7L614.8 412.5L619.3 412.0L625.5 411.2L631.7 410.4L637.8 409.6L644.0 408.8L650.2 408.0L656.4 407.2L662.6 406.4L668.7 405.5L674.9 404.7L681.1 403.9L687.3 403.1L693.5 402.3L699.6 401.4L705.8 400.6L712.0 399.8L718.2 399.0L724.4 398.1L730.6 397.3L736.8 396.5L743.0 395.7L749.2 394.8L755.4 394.0L759.8 393.4L761.5 393.2L767.7 392.3L773.9 391.5L780.1 390.7L786.3 389.9L792.5 389.0L798.7 388.2L804.9 387.4L811.1 386.6L817.3 385.7L823.5 384.9L829.7 384.1L835.9 383.3L842.1 382.5L848.2 381.7L854.4 380.9L860.6 380.1L866.8 379.3L873.0 378.5L879.2 377.7L885.4 376.9L891.6 376.1L897.8 375.4L903.9 374.6L905.2 374.4L910.1 373.8L916.3 373.1L922.5 372.3L928.7 371.5L934.9 370.8L941.0 370.0L947.2 369.2L953.4 368.4L959.5 367.6L965.7 366.8L971.9 366.0L978.0 365.2L984.2 364.3L990.3 363.4L996.5 362.5L1002.6 361.6L1008.8 360.7L1014.9 359.7L1021.0 358.7L1027.2 357.6L1033.3 356.6L1039.4 355.4L1045.5 354.3L1049.9 353.5L1051.6 353.1L1057.7 351.9L1063.8 350.6L1069.9 349.3L1076.0 348.0L1082.0 346.6L1088.1 345.2L1094.2 343.8L1100.3 342.4L1106.3 340.9L1112.4 339.5L1118.4 338.0L1124.5 336.5L1130.6 335.0L1136.6 333.5L1142.7 331.9L1148.7 330.4L1154.8 328.9L1160.8 327.4L1166.9 325.9L1173.0 324.4L1179.0 322.9L1185.1 321.4L1191.1 320.0L1195.0 319.1L1197.2 318.5L1203.3 317.1L1209.4 315.7L1215.4 314.4L1221.5 313.0L1227.6 311.7L1233.7 310.4L1239.8 309.1L1245.9 307.8L1252.0 306.5L1258.1 305.3L1264.2 304.1L1270.3 302.9L1276.4 301.7L1282.5 300.5L1288.6 299.4L1294.7 298.2L1300.9 297.1L1307.0 296.0L1313.1 294.9L1319.3 293.8L1325.4 292.7L1331.5 291.7L1337.7 290.6L1340.0 290.2L1343.8 289.6L1349.9 288.6L1356.1 287.6L1362.2 286.6L1368.4 285.6L1374.6 284.6L1380.7 283.7L1386.9 282.7L1393.0 281.8L1399.2 280.9L1405.4 280.0L1411.5 279.1L1417.7 278.2L1423.9 277.3L1430.1 276.5L1436.2 275.6L1442.4 274.8L1448.6 274.0L1454.8 273.2L1461.0 272.4L1467.2 271.6L1473.3 270.8L1479.5 270.1L1484.9 269.4L1485.7 269.4L1491.9 268.6L1498.1 267.9L1504.3 267.2L1510.5 266.5L1516.7 265.8L1522.9 265.2L1529.1 264.5L1535.3 263.9L1541.5 263.2L1547.7 262.6L1553.9 262.0L1560.1 261.4L1566.3 260.9L1572.5 260.3L1578.7 259.8L1584.9 259.2L1591.1 258.7L1597.3 258.2L1600.1 258.0L1603.5 257.7L1609.7 257.2L1615.9 256.7L1622.1 256.2L1628.3 255.8L1634.5 255.3L1640.7 254.8L1646.9 254.3L1653.1 253.8L1659.3 253.2L1665.5 252.7L1671.7 252.1L1677.9 251.5L1684.1 250.8L1690.3 250.2L1696.5 249.4L1699.9 249.0L1702.7 248.7L1708.9 247.8L1715.1 247.0L1721.2 246.1L1727.4 245.2L1733.6 244.2L1739.8 243.2L1746.0 242.3L1752.1 241.3L1758.3 240.3L1764.4 239.3L1770.6 238.3L1775.2 237.5L1776.7 237.3L1782.9 236.3L1789.0 235.3L1795.1 234.3L1801.3 233.4L1807.4 232.4L1813.5 231.5L1819.6 230.5L1825.7 229.6L1831.8 228.6L1837.9 227.6L1844.0 226.7L1850.1 225.7L1856.2 224.7L1862.3 223.7L1868.4 222.7L1874.5 221.6L1880.6 220.6L1886.8 219.5L1892.9 218.4L1899.0 217.3L1905.1 216.1L1911.3 215.0L1917.4 213.8L1919.4 213.4L1923.6 212.5L1929.7 211.3L1935.9 210.0L1942.1 208.6L1948.2 207.2L1954.4 205.8L1960.5 204.3L1966.6 202.7L1972.7 201.1L1978.7 199.3L1983.5 198.0L1984.8 197.6L1990.8 195.7L1996.7 193.8L2002.7 191.8L2008.5 189.6L2014.4 187.4L2020.2 185.1L2021.5 184.6L2025.9 182.7L2031.5 180.2L2037.1 177.5L2042.7 174.8L2046.1 173.0L2048.1 171.9L2053.5 168.9L2058.8 165.7L2064.0 162.5L2069.2 159.1L2070.9 157.9L2074.2 155.5L2079.1 151.8L2084.0 148.0L2088.7 143.9L2089.8 143.0L2093.4 139.8L2097.9 135.5L2102.3 131.0L2102.7 130.6L2106.6 126.4L2110.7 121.6L2114.7 116.8L2115.7 115.6L2118.6 111.8L2122.3 106.8L2125.8 101.6L2128.3 97.8L2129.2 96.4L2132.4 91.1L2135.6 85.8"/>
<path class="cv" stroke="#ff0a14" stroke-width="7.6" d="M248.7 166.5L251.1 172.9L252.6 176.9L253.4 179.2L255.5 185.6L256.3 188.5L257.3 192.1L259.0 198.8L260.6 205.5L261.3 208.8L262.0 212.2L263.5 218.9L265.0 225.6L265.8 229.4L266.5 232.3L268.2 238.9L270.1 245.5L271.9 251.1L272.2 251.9L274.6 258.3L275.4 260.1L277.3 264.4L278.6 267.2L280.4 270.4L283.9 276.2L284.5 277.1L287.8 281.6L291.1 285.6L292.1 286.7L297.0 291.3L301.5 295.1L302.1 295.6L307.6 299.4L312.8 302.6L313.4 302.9L319.4 306.1L325.6 309.0L328.6 310.3L332.0 311.7L338.4 314.1L345.0 316.3L350.1 317.9L351.6 318.3L358.2 320.2L364.8 322.0L371.4 323.6L374.6 324.3L378.1 325.1L384.7 326.5L391.4 327.8L398.1 329.0L400.2 329.4L404.8 330.2L411.5 331.2L418.2 332.2L424.9 333.1L431.6 334.0L432.1 334.1L438.4 334.9L445.1 335.7L450.1 336.3L451.9 336.5L458.6 337.2L465.3 338.0L470.0 338.5L472.1 338.8L478.8 339.5L485.6 340.2L492.4 340.9L499.1 341.6L505.9 342.3L512.6 343.0L519.4 343.7L526.2 344.4L533.0 345.0L539.7 345.7L546.5 346.4L553.3 347.0L560.1 347.7L566.8 348.3L573.6 349.0L580.4 349.6L587.2 350.3L594.0 351.0L600.7 351.6L607.5 352.3L614.3 352.9L614.8 353.0L621.1 353.6L627.9 354.3L634.6 355.0L641.4 355.7L648.2 356.4L655.0 357.1L661.7 357.8L668.5 358.5L675.3 359.3L682.1 360.0L688.8 360.8L695.6 361.6L702.4 362.4L709.1 363.2L715.9 364.1L722.6 364.9L729.4 365.8L736.1 366.7L742.9 367.6L749.6 368.5L756.4 369.5L760.1 370.0L763.1 370.5L769.9 371.5L776.6 372.5L783.3 373.5L790.1 374.6L796.8 375.7L803.5 376.8L810.2 377.9L816.9 379.1L823.6 380.2L830.4 381.4L837.1 382.6L843.8 383.8L848.0 384.5L850.5 385.0L857.2 386.2L863.9 387.4L870.6 388.7L877.3 389.9L884.0 391.2L890.7 392.4L897.4 393.7L904.0 395.0L905.1 395.2L910.7 396.3L917.4 397.6L924.1 398.9L930.8 400.1L937.5 401.4L944.2 402.7L950.9 404.0L957.6 405.3L964.3 406.6L970.9 407.9L977.6 409.2L984.3 410.4L991.0 411.7L997.7 413.0L1004.4 414.2L1011.1 415.5L1017.8 416.7L1024.5 417.9L1031.2 419.1L1037.9 420.3L1044.6 421.5L1050.0 422.5L1051.3 422.7L1058.0 423.8L1064.7 425.0L1071.4 426.1L1078.1 427.2L1084.9 428.3L1091.6 429.4L1098.3 430.5L1105.0 431.6L1111.7 432.6L1118.5 433.7L1125.2 434.7L1131.9 435.7L1138.6 436.7L1145.4 437.7L1152.1 438.7L1158.8 439.6L1165.6 440.6L1172.3 441.5L1179.0 442.5L1185.8 443.4L1192.5 444.3L1195.0 444.7L1199.3 445.2L1206.0 446.1L1212.7 447.0L1219.5 447.9L1226.2 448.8L1233.0 449.6L1239.7 450.5L1246.5 451.4L1253.2 452.2L1260.0 453.0L1266.7 453.9L1273.5 454.7L1280.3 455.5L1287.0 456.3L1293.8 457.1L1300.5 457.9L1307.3 458.7L1314.0 459.5L1320.8 460.3L1327.6 461.0L1334.3 461.8L1340.0 462.5L1341.1 462.6L1347.9 463.3L1354.6 464.1L1361.4 464.9L1368.2 465.6L1374.9 466.4L1381.7 467.1L1388.5 467.9L1395.3 468.6L1402.0 469.4L1408.8 470.1L1415.6 470.8L1422.3 471.6L1429.1 472.3L1435.9 473.0L1442.7 473.8L1449.4 474.5L1456.2 475.2L1463.0 476.0L1469.8 476.7L1476.5 477.5L1483.3 478.2L1484.9 478.4L1490.1 478.9L1496.9 479.7L1503.7 480.4L1510.4 481.2L1517.2 481.9L1524.0 482.7L1530.8 483.4L1537.5 484.2L1544.3 485.0L1551.1 485.8L1557.8 486.6L1564.6 487.4L1571.4 488.2L1578.1 489.0L1584.9 489.9L1591.7 490.7L1598.4 491.6L1605.2 492.5L1611.9 493.4L1618.7 494.3L1625.4 495.3L1630.2 496.0L1632.1 496.3L1638.9 497.2L1645.6 498.2L1652.3 499.3L1659.1 500.3L1665.8 501.4L1672.5 502.5L1679.2 503.6L1685.9 504.8L1692.6 505.9L1693.2 506.0L1699.3 507.1L1706.0 508.4L1712.6 509.6L1719.3 510.9L1726.0 512.3L1732.6 513.6L1739.3 515.0L1745.9 516.4L1752.6 517.9L1756.0 518.7L1759.2 519.4L1765.8 520.9L1772.4 522.5L1779.0 524.1L1785.6 525.7L1792.2 527.4L1798.8 529.2L1805.4 530.9L1811.9 532.7L1818.5 534.6L1818.7 534.7L1825.0 536.5L1831.6 538.5L1838.1 540.5L1844.6 542.6L1851.0 544.7L1857.5 547.0L1857.9 547.1L1863.9 549.3L1870.2 551.8L1876.5 554.3L1882.8 557.0L1884.3 557.7L1889.0 559.9L1895.1 562.8L1901.2 565.9L1903.2 567.0L1907.2 569.2L1913.1 572.6L1919.0 576.2L1924.1 579.7L1924.6 580.0L1930.2 584.0L1935.5 588.2L1940.6 592.7L1940.8 592.9L1945.5 597.3L1950.1 602.2L1954.4 607.4L1954.8 607.9L1958.5 612.8L1962.2 618.5L1964.8 622.9L1965.6 624.4L1968.8 630.4L1971.7 636.7L1972.4 638.3L1974.4 643.0L1976.8 649.4L1979.1 655.8L1979.1 655.9L1981.2 662.4L1983.1 668.9L1984.3 673.3L1984.9 675.5L1986.5 682.1L1988.1 688.7L1988.5 690.8L1989.5 695.4L1990.9 702.0L1992.2 708.7L1993.5 715.3L1994.2 719.0L1994.8 722.0L1996.1 728.7L1997.3 735.4L1998.6 742.0L1999.8 748.7L2001.1 755.4L2002.3 762.1L2003.5 768.8L2004.3 773.4L2004.7 775.5L2005.8 782.2L2007.0 788.9L2008.1 795.7L2009.3 802.4L2010.4 809.1L2011.5 815.8L2012.5 822.6L2013.4 827.9L2013.6 829.3L2014.6 836.0L2015.6 842.8L2016.6 849.5L2017.5 856.3L2018.5 863.0L2019.4 869.8L2020.2 876.5L2020.4 877.9L2021.1 883.3L2021.9 890.0L2022.7 896.8L2023.5 903.6L2024.1 909.4L2024.2 910.3L2025.0 917.1L2025.7 923.9L2026.4 930.6L2027.1 937.4L2027.7 944.2L2028.4 951.0L2029.0 957.7L2029.7 964.5L2030.3 971.1L2030.3 971.3L2030.9 978.1L2031.5 984.9L2032.1 991.6L2032.7 998.4L2033.3 1005.2L2033.9 1012.0L2034.5 1018.8L2035.2 1025.5L2035.8 1032.3L2036.4 1039.1L2037.0 1045.0L2037.1 1045.9L2037.7 1052.6L2038.4 1059.4L2039.0 1066.2L2039.7 1073.0L2040.4 1079.7L2041.2 1086.5L2041.9 1093.2L2042.7 1100.0L2043.4 1106.5L2043.5 1106.8L2044.3 1113.5L2045.1 1120.3L2046.0 1127.0L2046.9 1133.8L2047.8 1140.5L2048.8 1147.3L2049.8 1154.0L2050.1 1156.0L2050.8 1160.7L2051.9 1167.4L2053.0 1174.2L2054.1 1180.9L2055.3 1187.6L2056.6 1194.3L2057.8 1201.0"/></g>
<g id="legend"><rect x="334.5" y="837.6" width="123" height="10.4" fill="#8c8c8c"/><rect x="334.5" y="840.2" width="124.5" height="5.2" fill="#000000"/><text class="leg" x="474" y="859.5" fill="#000000">LMO</text><rect x="334.5" y="903.2" width="123" height="10.4" fill="#8f8cf5"/><rect x="334.5" y="905.8" width="124.5" height="5.2" fill="#0a00b4"/><text class="leg" x="474" y="924.8" fill="#0a00d2">LMMO</text><rect x="334.5" y="968.8" width="123" height="10.4" fill="#ff8a84"/><rect x="334.5" y="971.4" width="124.5" height="5.2" fill="#de1912"/><text class="leg" x="474" y="990.1" fill="#ff0a14">LMMOO</text></g>
</svg>
</body>
</html>
